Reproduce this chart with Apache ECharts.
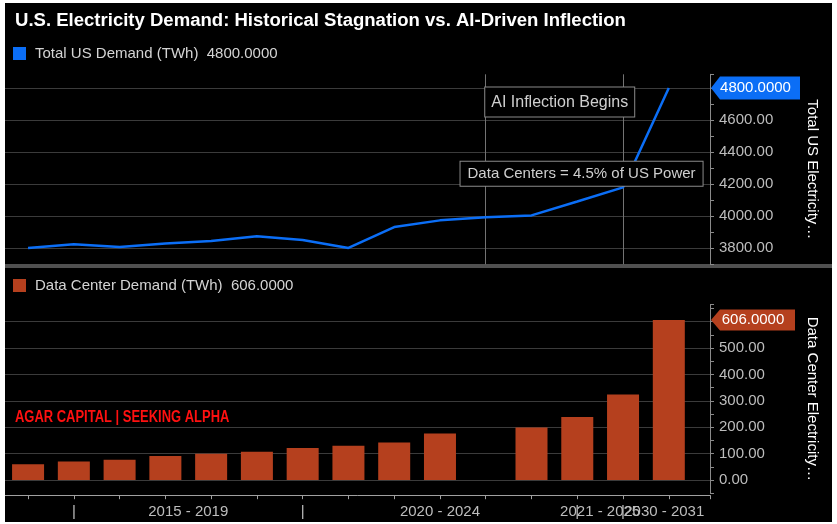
<!DOCTYPE html>
<html><head><meta charset="utf-8">
<script src="https://cdn.jsdelivr.net/npm/echarts/dist/echarts.min.js"></script>
<style>
html,body{margin:0;padding:0;background:#fff;}
#c{position:absolute;left:5px;top:3px;width:827px;height:519px;background:#000;}
</style></head><body><div id="c"></div>
<script>
// ---- data ----
const positions = [0,1,2,3,4,5,6,7,8,9,10,11,12,13,14];
const totalDemand = [3802,3825,3808,3830,3845,3875,3852,3802,3932,3974,3993,4005,4092,4180,4800];
const dataCenterDemand = [60,70,77,91,99,107,121,130,142,176,null,199,239,324,606];
const xLabelPos = [1,3.5,6,9,12,12.5,13,13.9];
const xLabelText = ['|','2015 - 2019','|','2020 - 2024','|','2021 - 2025','|','2030 - 2031'];
const topGridTicks = [3800,4000,4200,4400,4600,4800];
const topLabelTicks = [3800,4000,4200,4400,4600];
const bottomGridTicks = [0,100,200,300,400,500,600];
const bottomLabelTicks = [0,100,200,300,400,500];
const eventLinePos = [10,13];
const annotationText = ['AI Inflection Begins','Data Centers = 4.5% of US Power'];
const annotationPos = [10,13];
const annotationVal = [4800,4180];
const titleText = 'U.S. Electricity Demand: Historical Stagnation vs. AI-Driven Inflection';
const topSeriesName = 'Total US Demand (TWh)';
const bottomSeriesName = 'Data Center Demand (TWh)';
const topAxisName = 'Total US Electricity…';
const bottomAxisName = 'Data Center Electricity…';
const watermark = 'AGAR CAPITAL | SEEKING ALPHA';

// ---- layout ----
const X_MIN = -1, X_MAX = 14.9;
const FONT = "'Liberation Sans', Arial, sans-serif";
const BLUE = '#0b6ef6', RUST = '#b5401e';
const GRID_C = '#3b3b3b', AXIS_C = '#8a8a8a', LABEL_C = '#bdbdbd';

const lastTop = totalDemand[totalDemand.length-1];
const lastBot = dataCenterDemand[dataCenterDemand.length-1];

const chart = echarts.init(document.getElementById('c'), null, {renderer:'canvas'});

function yAxisCommon(min, max, interval, labels, name, gi){
  return {
    type:'value', gridIndex:gi, position:'right', min, max, interval,
    axisLine:{show:true, onZero:false, lineStyle:{color:AXIS_C, width:1}},
    axisTick:{show:true, inside:false, length:4, lineStyle:{color:AXIS_C}},
    splitLine:{show:false},
    axisLabel:{show:true, margin:9, color:LABEL_C, fontSize:15, fontFamily:FONT,
      formatter: v => labels.includes(Math.round(v)) ? Number(v).toFixed(2) : ''},
    name, nameLocation:'middle', nameRotate:-90, nameGap:95,
    nameTextStyle:{color:'#ffffff', fontSize:15, fontFamily:FONT}
  };
}

function gridLines(ticks, xi, yi){
  return {
    type:'line', xAxisIndex:xi, yAxisIndex:yi, data:[], silent:true,
    markLine:{silent:true, z:1, symbol:['none','none'], label:{show:false},
      lineStyle:{color:GRID_C, width:1, type:'solid'},
      data: ticks.map(v => ({yAxis:v}))}
  };
}

const option = {
  backgroundColor:'#000',
  animation:false,
  textStyle:{fontFamily:FONT},
  grid:[
    {left:-22.7, right:122, top:71.3, height:190, outerBoundsMode:'none', containLabel:false},
    {left:-22.7, right:122, top:301.4, height:188.8, outerBoundsMode:'none', containLabel:false}
  ],
  legend:[
    {data:[topSeriesName], left:8, top:43, padding:0, icon:'rect', itemWidth:13, itemHeight:13,
     selectedMode:false, textStyle:{color:'#d4d4d4', fontSize:15, fontFamily:FONT, padding:[0,0,0,4]},
     formatter: n => n + '  ' + lastTop.toFixed(4)},
    {data:[bottomSeriesName], left:8, top:275, padding:0, icon:'rect', itemWidth:13, itemHeight:13,
     selectedMode:false, textStyle:{color:'#d4d4d4', fontSize:15, fontFamily:FONT, padding:[0,0,0,4]},
     formatter: n => n + '  ' + lastBot.toFixed(4)}
  ],
  xAxis:[
    {type:'value', gridIndex:0, position:'bottom', min:X_MIN, max:X_MAX, show:false,
     axisLine:{onZero:false}},
    {type:'value', gridIndex:1, position:'bottom', min:X_MIN, max:X_MAX, interval:1, offset:2,
     axisLine:{show:true, onZero:false, lineStyle:{color:'#a0a0a0'}},
     axisTick:{show:true, length:4, lineStyle:{color:'#a0a0a0'}},
     axisLabel:{show:false}, splitLine:{show:false}},
    {type:'value', gridIndex:1, position:'bottom', min:X_MIN, max:X_MAX, interval:0.1, offset:2,
     axisLine:{show:false, onZero:false}, axisTick:{show:false}, splitLine:{show:false},
     axisLabel:{show:true, margin:9, color:LABEL_C, fontSize:15, fontFamily:FONT, hideOverlap:false,
       formatter: v => { const k = xLabelPos.findIndex(p => Math.abs(p - v) < 1e-6); return k >= 0 ? xLabelText[k] : ''; }}}
  ],
  yAxis:[
    yAxisCommon(3700, 4885, 100, topLabelTicks, topAxisName, 0),
    yAxisCommon(-50, 665, 50, bottomLabelTicks, bottomAxisName, 1)
  ],
  graphic:[
    {type:'rect', left:0, top:261, shape:{width:827, height:4}, style:{fill:'#505050'}, silent:true},
    {type:'text', x:10, y:18, scaleX:1.03, style:{text:titleText, fill:'#ffffff', font:'bold 18px ' + FONT, textVerticalAlign:'middle'}},
    {type:'text', x:10, y:415, scaleX:0.81, style:{text:watermark, fill:'#ff1010', font:'bold 16px ' + FONT, textVerticalAlign:'middle'}}
  ],
  series:[
    gridLines(topGridTicks, 0, 0),
    gridLines(bottomGridTicks, 1, 1),
    {
      name:topSeriesName, type:'line', xAxisIndex:0, yAxisIndex:0,
      data: positions.map((p,i) => [p, totalDemand[i]]),
      showSymbol:false, symbol:'none', color:BLUE,
      lineStyle:{color:BLUE, width:2.5},
      markLine:{silent:true, z:1, symbol:['none','none'], label:{show:false},
        lineStyle:{color:'#737373', width:1, type:'solid'},
        data: eventLinePos.map(p => ({xAxis:p}))},
      markPoint:{z:5, data:[
        ...annotationText.map((t,i) => ({
          coord:[annotationPos[i], annotationVal[i]], symbol:'rect', symbolSize:1,
          itemStyle:{color:'rgba(0,0,0,0)'},
          label:{show:true, formatter:t, position: i===0 ? [0,0] : [-162,-25],
            color:'#cfcfcf', fontSize: i===0 ? 16 : 15, fontFamily:FONT,
            backgroundColor:'#000', borderColor:'#8a8a8a', borderWidth:1,
            padding: i===0 ? [7,6,6,6] : [5,7,4,7]}
        })),
        {coord:[X_MAX, lastTop], value:lastTop,
         symbol:'path://M0,11.5 L9,0 L89,0 L89,23 L9,23 Z', symbolSize:[89,23], symbolKeepAspect:false,
         symbolOffset:[45.5,0], itemStyle:{color:BLUE},
         label:{show:true, position:'inside', formatter: p => Number(p.value).toFixed(4), color:'#fff', fontSize:15, fontFamily:FONT}}
      ]}
    },
    {
      name:bottomSeriesName, type:'bar', xAxisIndex:1, yAxisIndex:1,
      data: positions.filter((p,i) => dataCenterDemand[i] !== null).map(p => [p, dataCenterDemand[positions.indexOf(p)]]),
      barWidth:32, color:RUST, itemStyle:{color:RUST},
      markPoint:{z:5, data:[
        {coord:[X_MAX, lastBot], value:lastBot,
         symbol:'path://M0,10.5 L9,0 L84,0 L84,21 L9,21 Z', symbolSize:[84,21], symbolKeepAspect:false,
         symbolOffset:[43,0], itemStyle:{color:RUST},
         label:{show:true, position:'inside', formatter: p => Number(p.value).toFixed(4), color:'#fff', fontSize:15, fontFamily:FONT}}
      ]}
    }
  ]
};
chart.setOption(option);
</script></body></html>
